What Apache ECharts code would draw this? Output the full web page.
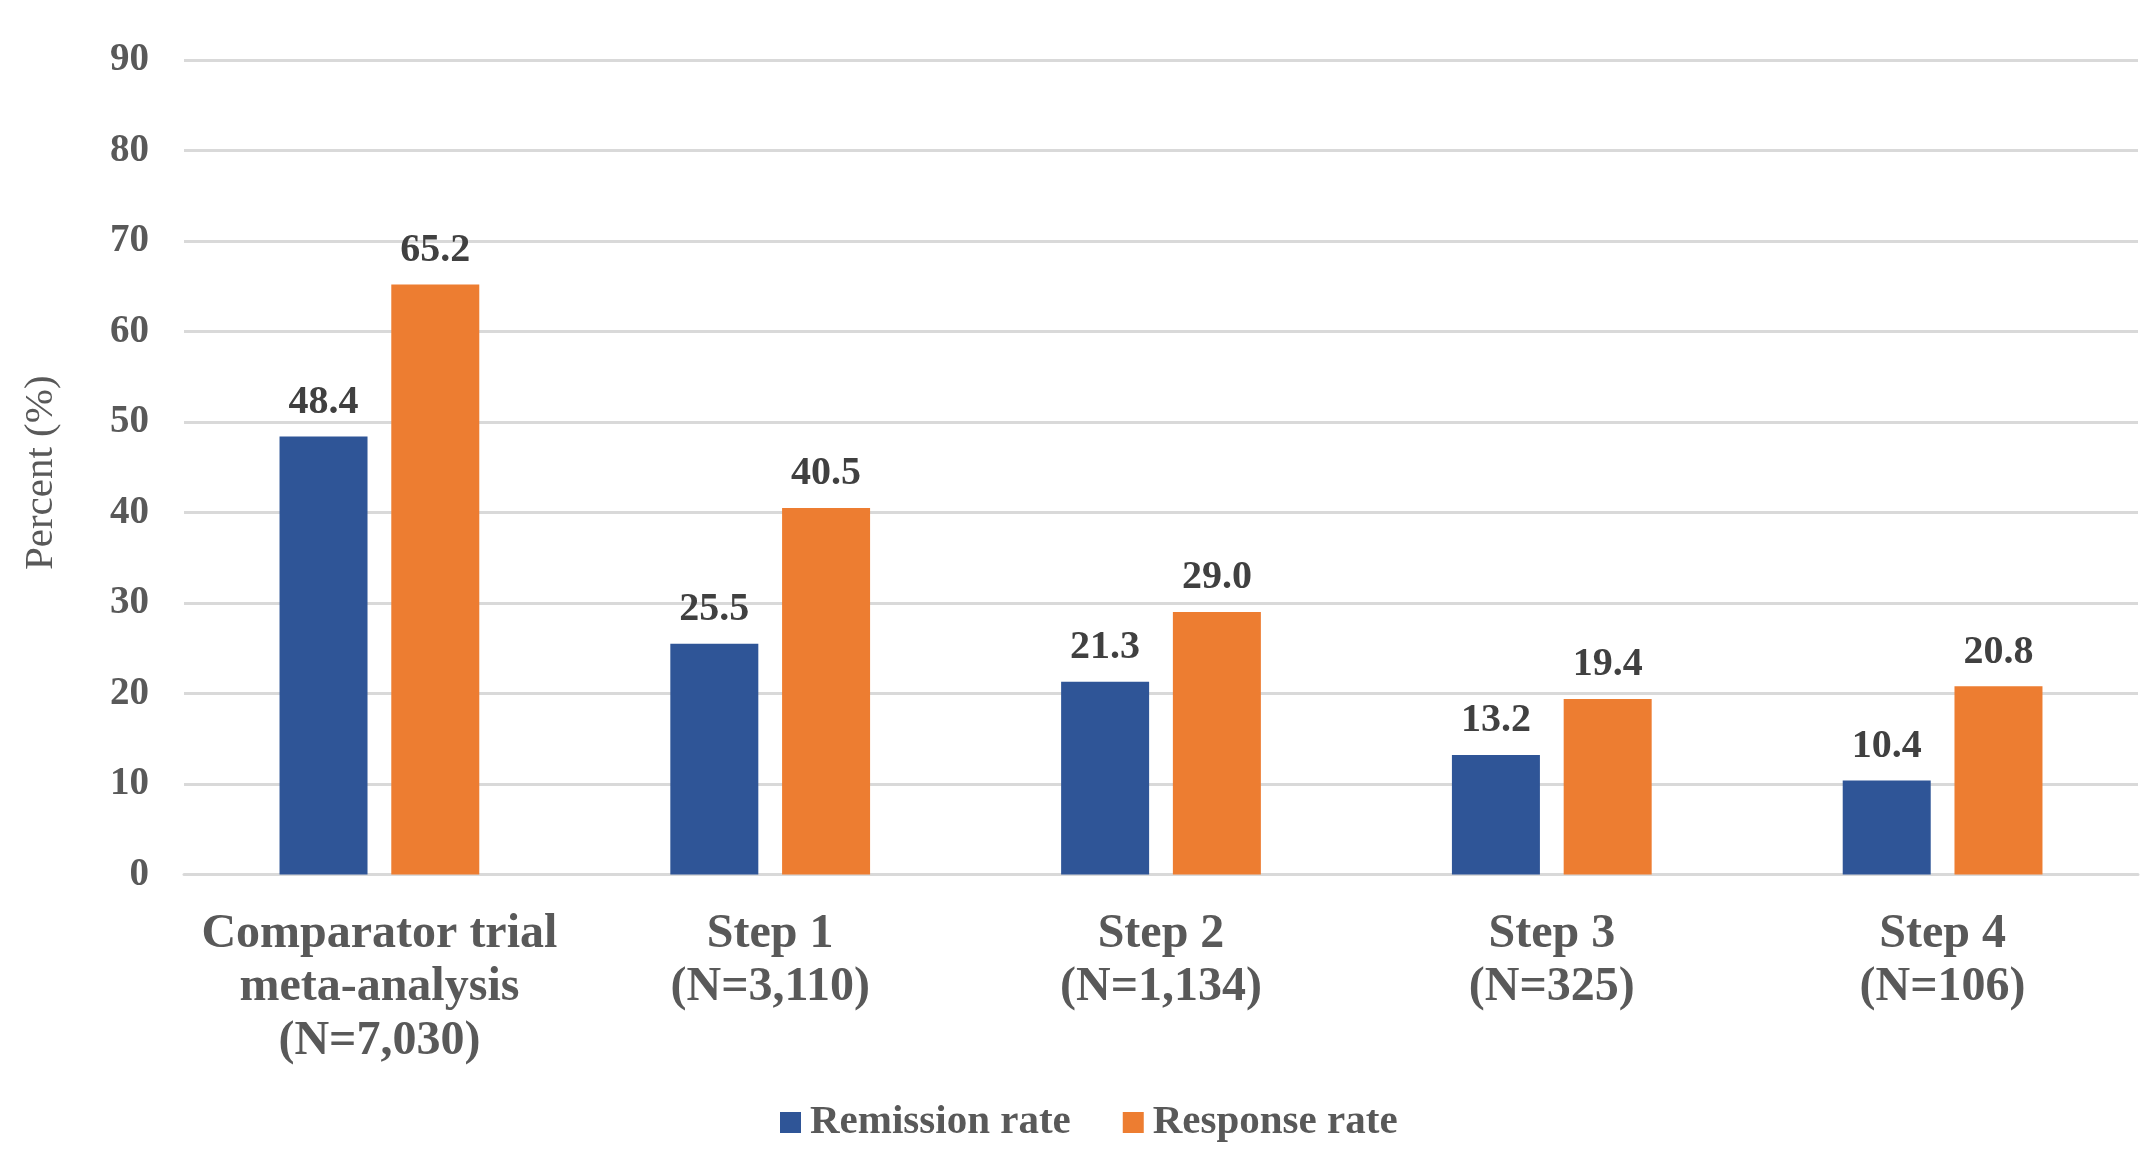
<!DOCTYPE html>
<html>
<head>
<meta charset="utf-8">
<script src="https://cdn.jsdelivr.net/npm/echarts@6/dist/echarts.min.js"></script>
<style>
html,body{margin:0;padding:0;background:#fff;}
#chart{width:2156px;height:1162px;}
</style>
</head>
<body>
<div id="chart"></div>
<script>
const categories = ['Comparator trial\nmeta-analysis\n(N=7,030)', 'Step 1\n(N=3,110)', 'Step 2\n(N=1,134)', 'Step 3\n(N=325)', 'Step 4\n(N=106)'];
const remissionRate = [48.4, 25.5, 21.3, 13.2, 10.4];
const responseRate = [65.2, 40.5, 29.0, 19.4, 20.8];
const seriesNames = ['Remission rate', 'Response rate'];
const yTicks = { min: 0, max: 90, interval: 10 };

const FONT = '"Liberation Serif", "Times New Roman", serif';
const chart = echarts.init(document.getElementById('chart'));
const labelStyle = {
  show: true, position: 'top', distance: 14,
  fontFamily: FONT, fontWeight: 'bold', fontSize: 40, color: '#404040',
  formatter: p => p.value.toFixed(1)
};
chart.setOption({
  animation: false,
  backgroundColor: '#ffffff',
  grid: { left: 184, right: 18, top: 60, bottom: 287.5 },
  legend: {
    data: seriesNames,
    left: 775, top: 1097,
    itemWidth: 21, itemHeight: 21, itemGap: 52,
    icon: 'rect',
    textStyle: { fontFamily: FONT, fontWeight: 'bold', fontSize: 41, color: '#595959', padding: [0, 0, 0, 4] }
  },
  xAxis: {
    type: 'category',
    data: categories,
    axisLine: { show: true, lineStyle: { color: '#d9d9d9', width: 3 } },
    axisTick: { show: false },
    axisLabel: {
      margin: 33, interval: 0,
      fontFamily: FONT, fontWeight: 'bold', fontSize: 48, lineHeight: 53.5, color: '#595959'
    }
  },
  yAxis: {
    type: 'value',
    min: yTicks.min, max: yTicks.max, interval: yTicks.interval,
    name: 'Percent (%)',
    nameLocation: 'middle',
    nameGap: 122,
    nameRotate: 90,
    nameTextStyle: { fontFamily: FONT, fontSize: 41, color: '#595959', padding: [0, 11, 0, 0] },
    axisLine: { show: false },
    axisTick: { show: false },
    splitLine: { lineStyle: { color: '#d9d9d9', width: 3 } },
    axisLabel: { margin: 35, fontFamily: FONT, fontWeight: 'bold', fontSize: 39, color: '#595959' }
  },
  series: [
    { name: seriesNames[0], type: 'bar', data: remissionRate, barWidth: 88, barGap: '27%',
      itemStyle: { color: '#2F5597' }, label: labelStyle },
    { name: seriesNames[1], type: 'bar', data: responseRate, barWidth: 88, barGap: '27%',
      itemStyle: { color: '#ED7D31' }, label: labelStyle }
  ]
});
</script>
</body>
</html>
